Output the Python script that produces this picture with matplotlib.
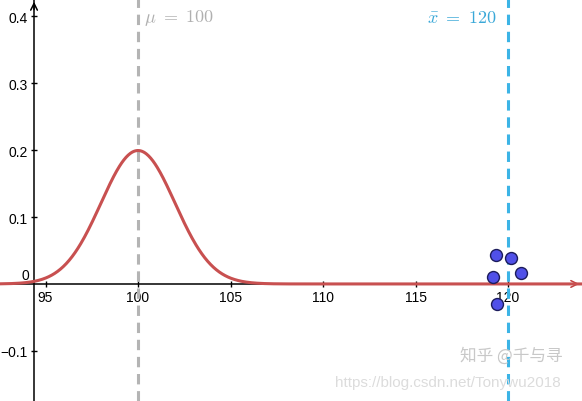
import matplotlib
matplotlib.use("Agg")
import matplotlib.pyplot as plt
import numpy as np

# distribution / sample values
mu = 100
sigma = 2
sample_mean = 120
sample_x = [119.35, 120.14, 119.21, 120.7, 119.39]
sample_y = [0.044, 0.039, 0.011, 0.017, -0.03]

x_ticks = [95, 100, 105, 110, 115, 120]
y_ticks = [-0.1, 0.1, 0.2, 0.3, 0.4]
y_tick_labels = ["\u22120.1", "0.1", "0.2", "0.3", "0.4"]

x_min, x_max = 92.54, 124.0
y_min, y_max = -0.175, 0.426
y_axis_at = 94.38

plt.rcParams['font.family'] = ['Liberation Sans', 'DejaVu Sans']
plt.rcParams['mathtext.fontset'] = 'cm'

fig = plt.figure(figsize=(5.82, 4.02), dpi=100)
ax = fig.add_axes([0, 0, 1, 1])
ax.set_xlim(x_min, x_max)
ax.set_ylim(y_min, y_max)

# axes through the data
for s in ['top', 'right']:
    ax.spines[s].set_visible(False)
ax.spines['left'].set_position(('data', y_axis_at))
ax.spines['bottom'].set_position(('data', 0))
ax.spines['left'].set_linewidth(1.1)
ax.spines['bottom'].set_linewidth(1.1)

ax.set_xticks(x_ticks)
ax.set_xticklabels([str(t) for t in x_ticks])
ax.set_yticks(y_ticks)
ax.set_yticklabels(y_tick_labels)
ax.tick_params(axis='both', direction='inout', length=5, width=1, labelsize=10, pad=2)
ax.text(y_axis_at - 0.25, 0.003, "0", ha='right', va='bottom', fontsize=10)

# arrow heads
ax.annotate('', xy=(x_max, 0), xytext=(x_max - 0.6, 0),
            arrowprops=dict(arrowstyle='->', color='#c04040', lw=1.1, mutation_scale=12))
ax.annotate('', xy=(y_axis_at, y_max), xytext=(y_axis_at, y_max - 0.02),
            arrowprops=dict(arrowstyle='->', color='black', lw=1.1, mutation_scale=12))

# normal density curve
xs = np.linspace(x_min, x_max, 800)
pdf = np.exp(-0.5 * ((xs - mu) / sigma) ** 2) / (sigma * np.sqrt(2 * np.pi))
ax.plot(xs, pdf, color='#c85050', lw=2.2, zorder=3, clip_on=False)

# reference lines
ax.axvline(mu, color='#b4b4b4', lw=2.2, dashes=(3.4, 2.2), zorder=2)
ax.axvline(sample_mean, color='#3cb4e6', lw=2.2, dashes=(3.4, 2.2), zorder=4)
ax.text(mu + 0.3, 0.399, r'$\mu\ =\ 100$', color='#b0b0b0', fontsize=13, va='center', ha='left')
ax.text(sample_mean - 0.6, 0.399, r'$\bar{x}\ =\ 120$', color='#3aa8d8', fontsize=13, va='center', ha='right')

# sample points
ax.plot(sample_x, sample_y, 'o', ms=8.6, mfc='#5050e8', mec='#1c1c5c', mew=1, zorder=5)

# watermark
fig.text(0.79, 0.115, "知乎 @千与寻", fontsize=12, color='#c8c8c8',
         family=['Noto Sans CJK SC', 'DejaVu Sans'], ha='left', va='center')
fig.text(0.575, 0.048, "https://blog.csdn.net/Tonywu2018", fontsize=11, color='#dcdcdc',
         ha='left', va='center')

fig.savefig("out.png", dpi=100)
